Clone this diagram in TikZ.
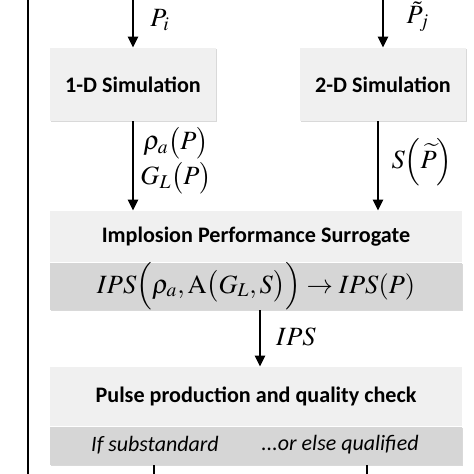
\documentclass[tikz,border=0pt]{standalone}
\usepackage{amsmath,amssymb}
\usepackage{mathptmx}
\usepackage[no-math]{fontspec}
\setmainfont{Carlito}
\usetikzlibrary{arrows.meta,shadows}
\definecolor{boxlight}{RGB}{240,240,240}
\definecolor{boxband}{RGB}{214,214,214}

\begin{document}
\begin{tikzpicture}[x=0.02cm,y=-0.02cm,
  simbox/.style={rectangle,fill=boxlight,minimum width=3.32cm,minimum height=1.46cm,
    font=\fontsize{12.6}{14}\selectfont\bfseries,
    drop shadow={shadow xshift=0.5pt,shadow yshift=-0.7pt,opacity=0.3}},
  headbox/.style={rectangle,fill=boxlight,minimum width=8.24cm,inner sep=0pt,
    font=\fontsize{12.6}{14}\selectfont\bfseries},
  bandbox/.style={rectangle,fill=boxband,minimum width=8.24cm,inner sep=0pt,
    drop shadow={shadow xshift=0.5pt,shadow yshift=-0.7pt,opacity=0.3}},
  flow/.style={line width=1.4pt,-{Triangle[length=0.22cm,width=0.2cm]}},
  mathlbl/.style={font=\fontsize{15}{18}\selectfont}]
\useasboundingbox (0,0) rectangle (474,474);

% left feedback line
\draw[line width=1.7pt] (28,-5) -- (28,480);

% simulations
\node[simbox] (oneD) at (133,84.5) {1-D Simulation};
\node[simbox] (twoD) at (383,84.5) {2-D Simulation};

% surrogate
\node[headbox,minimum height=1.02cm] (ips) at (256,236.5) {Implosion Performance Surrogate};
\node[bandbox,minimum height=0.9cm,anchor=north,mathlbl] (ipsband) at (ips.south)
  {$IPS\Bigl(\rho_a,\mathrm{A}\bigl(G_L,S\bigr)\Bigr)\rightarrow IPS(P)$};

% pulse check
\node[headbox,minimum height=1.18cm] (pulse) at (256,396.5) {Pulse production and quality check};
\node[bandbox,minimum height=0.76cm,anchor=north] (pulseband) at (pulse.south) {};
\node[font=\fontsize{12.5}{14}\selectfont\itshape] (subst) at (155,445) {If substandard};
\node[font=\fontsize{12.5}{14}\selectfont\itshape] (qual) at (340,445) {...or else qualified};

% inputs and outputs
\coordinate (inI) at (133,-2);
\coordinate (inJ) at (383,-2);
\coordinate (outA) at (154,480);
\coordinate (outB) at (367,480);

\draw[flow] (inI) -- (oneD);
\draw[flow] (inJ) -- (twoD);
\draw[flow] (oneD) -- (oneD |- ips.north);
\draw[flow] ([xshift=-0.1cm]twoD.south) -- ([xshift=-0.1cm]twoD.south |- ips.north);
\draw[flow] ([xshift=0.08cm]ipsband.south) -- ([xshift=0.08cm]ipsband.south |- pulse.north);
\draw[line width=1.4pt] (pulseband.south -| outA) -- (outA);
\draw[line width=1.4pt] (pulseband.south -| outB) -- (outB);

% labels
\node[mathlbl] (lPi) at (160,20) {$P_i$};
\node[mathlbl] (lPj) at (418,17) {$\tilde{P}_j$};
\node[mathlbl] (lrho) at (176,143) {$\rho_a\bigl(P\bigr)$};
\node[mathlbl] (lGL) at (176,178) {$G_L\bigl(P\bigr)$};
\node[mathlbl] (lS) at (422,162) {$S\!\left(\widetilde{P}\right)$};
\node[mathlbl] (lIPS) at (296,337) {$IPS$};
\end{tikzpicture}
\end{document}
